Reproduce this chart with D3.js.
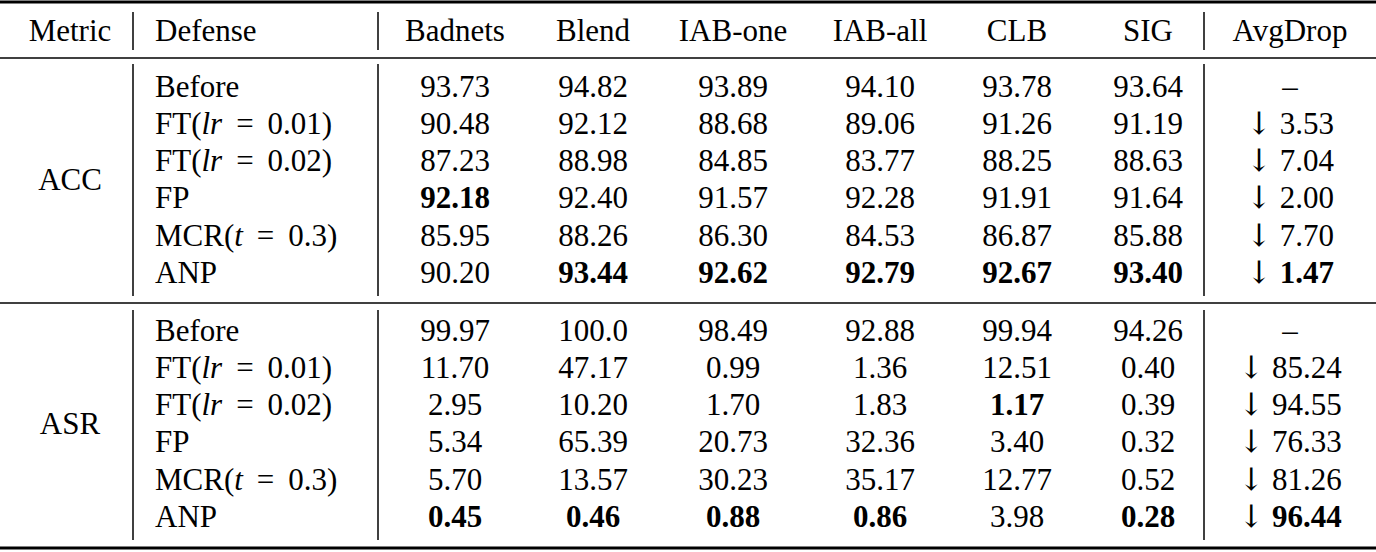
<!DOCTYPE html>
<html><head><meta charset="utf-8">
<script src="https://cdn.jsdelivr.net/npm/d3@7"></script>
<style>body{margin:0;background:#fff}text{font-family:"Liberation Serif","DejaVu Serif",serif;fill:#000}</style>
</head><body><svg id="c" width="1376" height="552"></svg>
<script>
const columns = ["Badnets","Blend","IAB-one","IAB-all","CLB","SIG"];
const defenses = ["Before","FT(lr=0.01)","FT(lr=0.02)","FP","MCR(t=0.3)","ANP"];
const accValues = [
 [93.73,94.82,93.89,94.10,93.78,93.64],
 [90.48,92.12,88.68,89.06,91.26,91.19],
 [87.23,88.98,84.85,83.77,88.25,88.63],
 [92.18,92.40,91.57,92.28,91.91,91.64],
 [85.95,88.26,86.30,84.53,86.87,85.88],
 [90.20,93.44,92.62,92.79,92.67,93.40]];
const accDrop = [null,3.53,7.04,2.00,7.70,1.47];
const accBold = [[],[],[],[0],[],[1,2,3,4,5,6]];
const asrValues = [
 ["99.97","100.0","98.49","92.88","99.94","94.26"],
 ["11.70","47.17","0.99","1.36","12.51","0.40"],
 ["2.95","10.20","1.70","1.83","1.17","0.39"],
 ["5.34","65.39","20.73","32.36","3.40","0.32"],
 ["5.70","13.57","30.23","35.17","12.77","0.52"],
 ["0.45","0.46","0.88","0.86","3.98","0.28"]];
const asrDrop = [null,85.24,94.55,76.33,81.26,96.44];
const asrBold = [[],[],[4],[],[],[0,1,2,3,5,6]];

const svg = d3.select("#c");
const fs = 31;
const xPos = {Badnets:455,Blend:593,"IAB-one":733,"IAB-all":880,CLB:1017,SIG:1148};
const y1 = d3.scalePoint().domain(defenses).range([86,272]);
const y2 = d3.scalePoint().domain(defenses).range([330,516]);
const cx = c => xPos[c];

function txt(g,xx,yy,s,anchor,bold){
  return g.append("text").attr("x",xx).attr("y",yy).attr("dy","0.35em")
   .attr("text-anchor",anchor).attr("font-size",fs).attr("font-weight",bold?"bold":"normal").text(s);
}
function defLabel(g,xx,yy,d){
  const t=g.append("text").attr("x",xx).attr("y",yy).attr("dy","0.35em").attr("font-size",fs);
  const m=d.match(/^(\w+)\((\w+)=(.*)\)$/);
  if(!m){t.text(d);return;}
  t.append("tspan").text(m[1]+"(");
  t.append("tspan").attr("font-style","italic").text(m[2]);
  t.append("tspan").text(" \u2009=\u2009 "+m[3]+")");
}
function line(x1,y1_,x2,y2_,w){svg.append("line").attr("x1",x1).attr("x2",x2).attr("y1",y1_).attr("y2",y2_).attr("stroke","#000").attr("stroke-width",w);}

line(0,2,1376,2,3); line(0,58,1376,58,1.5); line(0,303,1376,303,1.5); line(0,548,1376,548,3);
[133,378,1204].forEach(v=>{line(v,12,v,50,1.5);line(v,64,v,296,1.5);line(v,310,v,540,1.5);});

txt(svg,70,30,"Metric","middle");
txt(svg,155,30,"Defense","start");
columns.forEach(c=>txt(svg,cx(c),30,c,"middle"));
txt(svg,1290,30,"AvgDrop","middle");

function block(metric,vals,drops,bolds,ys){
  const g=svg.append("g");
  txt(g,70,(ys(defenses[0])+ys(defenses[5]))/2,metric,"middle");
  defenses.forEach((d,i)=>{
    const yy=ys(d);
    defLabel(g,155,yy,d);
    columns.forEach((c,j)=>{
      const v=vals[i][j];
      txt(g,cx(c),yy,typeof v==="number"?v.toFixed(2):v,"middle",bolds[i].includes(j));
    });
    if(drops[i]===null) txt(g,1290,yy,"–","middle");
    else{
      const t=g.append("text").attr("x",1290).attr("y",yy).attr("dy","0.35em").attr("text-anchor","middle").attr("font-size",fs);
      t.append("tspan").attr("font-family","'DejaVu Serif'").attr("style","fill:#000").attr("font-weight","normal").text("\u2193\uFE0E");
      t.append("tspan").attr("font-weight",bolds[i].includes(6)?"bold":"normal").text(" "+drops[i].toFixed(2));
    }
  });
}
block("ACC",accValues,accDrop,accBold,y1);
block("ASR",asrValues,asrDrop,asrBold,y2);
</script></body></html>
